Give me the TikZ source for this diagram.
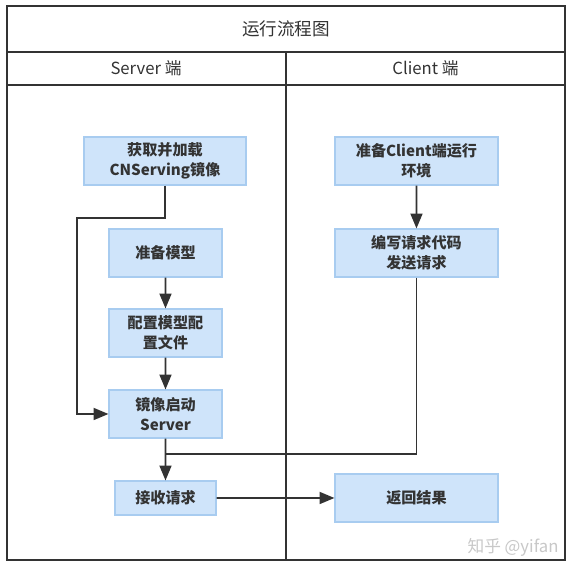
\documentclass[tikz,border=0pt]{standalone}
\usepackage{fontspec}
\setmainfont{Noto Sans CJK SC}
\usetikzlibrary{arrows.meta}
\definecolor{boxfill}{RGB}{207,228,250}
\definecolor{boxline}{RGB}{168,204,240}
\definecolor{ink}{RGB}{51,51,51}
\definecolor{markgray}{RGB}{200,200,200}
\begin{document}
\begin{tikzpicture}[scale=0.2]
		\tikzstyle{every node}+=[inner sep=0pt, text=ink]
		\tikzstyle{stepbox}=[draw=boxline, fill=boxfill, line width=0.6pt, minimum height=0.96cm, align=center, font=\fontsize{8.6}{11.3}\selectfont\bfseries]
		\tikzstyle{flow}=[draw=ink, line width=1.1pt, -{Triangle[length=8.5pt,width=6.8pt]}]
		\tikzstyle{link}=[draw=ink, line width=1.1pt]
		\tikzstyle{frame}=[draw=ink, line width=1.2pt]
		\tikzstyle{head}=[font=\fontsize{9.5}{11}\selectfont]
		\useasboundingbox [fill=white] (0,0) rectangle (57.6,-57.5);
		\draw [frame] (0.67,-0.63) rectangle (56.5,-56);
		\draw [frame] (0.67,-5.2) -- (56.5,-5.2);
		\draw [frame] (0.67,-8.5) -- (56.5,-8.5);
		\draw [frame] (28.6,-5.2) -- (28.6,-56);
		\node [head, font=\fontsize{10}{12}\selectfont] (title) at (28.6,-2.9) {运行流程图};
		\node [head] (serverhead) at (14.6,-6.85) {Server 端};
		\node [head] (clienthead) at (42.55,-6.85) {Client 端};
		\node [stepbox, minimum width=3.24cm] (fetch) at (16.5,-16.1) {获取并加载\\CNServing镜像};
		\node [stepbox, minimum width=2.26cm] (model) at (16.55,-25.3) {准备模型};
		\node [stepbox, minimum width=2.26cm] (config) at (16.55,-33.3) {配置模型配\\置文件};
		\node [stepbox, minimum width=2.26cm] (start) at (16.55,-41.4) {镜像启动\\Server};
		\node [stepbox, minimum width=2.02cm, minimum height=0.68cm] (recv) at (16.55,-49.8) {接收请求};
		\node [stepbox, minimum width=3.26cm] (prepclient) at (41.65,-16.1) {准备Client端运行\\环境};
		\node [stepbox, minimum width=3.26cm] (writereq) at (41.65,-25.3) {编写请求代码\\发送请求};
		\node [stepbox, minimum width=3.26cm] (result) at (41.65,-49.8) {返回结果};
		\coordinate (bend) at (7.7,-21.8);
		\coordinate (join) at (16.55,-45.4);
		\draw [flow] (fetch) |- (bend) |- (start);
		\draw [flow] (model) -- (config);
		\draw [flow] (config) -- (start);
		\draw [flow] (start) -- (recv);
		\draw [flow] (prepclient) -- (writereq);
		\draw [link] (writereq) |- (join);
		\draw [flow] (recv) -- (result);
		\node [text=markgray, font=\fontsize{9.5}{11}\selectfont] (watermark) at (51.3,-54.7) {知乎 @yifan};
\end{tikzpicture}
\end{document}
